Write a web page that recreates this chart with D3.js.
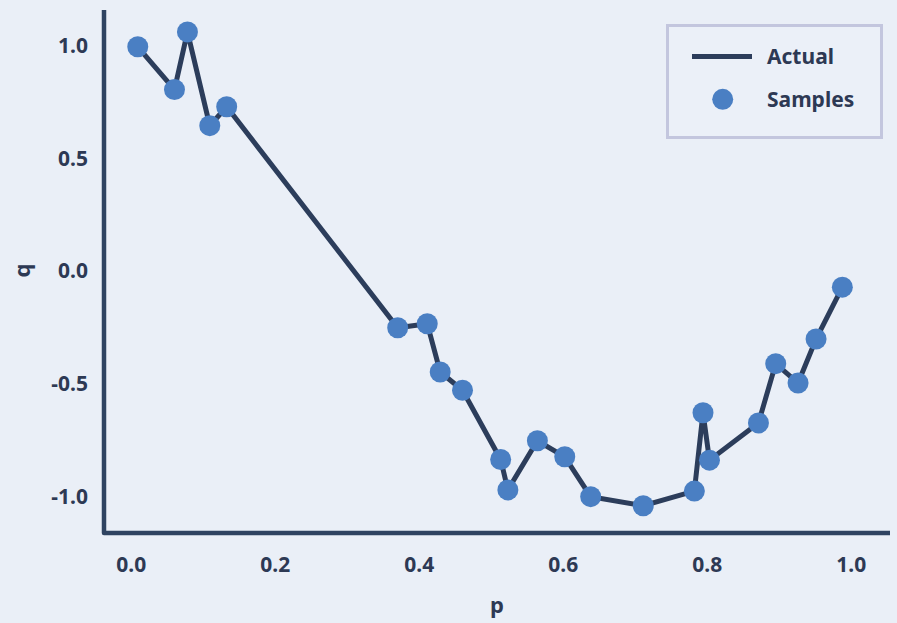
<!DOCTYPE html>
<html>
<head>
<meta charset="utf-8">
<script src="https://cdn.jsdelivr.net/npm/d3@7"></script>
<style>
  html, body { margin: 0; padding: 0; background: #eaeff7; }
  svg { display: block; }
  text { font-family: "Noto Sans", "Open Sans", sans-serif; font-weight: 700; fill: #2d3954; }
</style>
</head>
<body>
<svg id="chart" width="897" height="623"></svg>
<script>
const pValues = [0.009, 0.060, 0.078, 0.109, 0.1325, 0.370, 0.411, 0.429, 0.460, 0.513, 0.523, 0.564, 0.602, 0.638, 0.711, 0.782, 0.794, 0.803, 0.871, 0.895, 0.926, 0.951, 0.9875];
const qValues = [0.992, 0.802, 1.058, 0.642, 0.726, -0.254, -0.236, -0.450, -0.531, -0.838, -0.973, -0.755, -0.826, -1.003, -1.043, -0.978, -0.631, -0.841, -0.676, -0.413, -0.499, -0.304, -0.074];
const xTicks = [0.0, 0.2, 0.4, 0.6, 0.8, 1.0];
const yTicks = [-1.0, -0.5, 0.0, 0.5, 1.0];
const legendLabels = ["Actual", "Samples"];
const axisLabels = { x: "p", y: "q" };

(function () {
const data = pValues.map((p, i) => ({ p, q: qValues[i] }));

const svg = d3.select("#chart");
const mLeft = 104, mRight = 890, mTop = 10, mBottom = 533;

const x = d3.scaleLinear().domain([-0.0379, 1.0537]).range([mLeft, mRight]);
const y = d3.scaleLinear().domain([-1.164, 1.155]).range([mBottom, mTop]);

const lineColor = "#2c3d5b";
const dotColor = "#4a7fc3";

// tick labels
svg.append("g").selectAll("text").data(xTicks).join("text")
  .attr("x", d => x(d)).attr("y", 564)
  .attr("text-anchor", "middle").attr("dominant-baseline", "central")
  .attr("font-size", 21)
  .text(d => d3.format(".1f")(d));

svg.append("g").selectAll("text").data(yTicks).join("text")
  .attr("x", 88).attr("y", d => y(d))
  .attr("text-anchor", "end").attr("dominant-baseline", "central")
  .attr("font-size", 21)
  .text(d => d3.format(".1f")(d).replace("\u2212", "-"));

// axis titles
svg.append("text").attr("x", 497).attr("y", 604)
  .attr("text-anchor", "middle").attr("dominant-baseline", "central")
  .attr("font-size", 22).text(axisLabels.x);
svg.append("text")
  .attr("transform", `translate(21,${y(0)}) rotate(-90)`)
  .attr("text-anchor", "middle").attr("dominant-baseline", "central")
  .attr("font-size", 22).text(axisLabels.y);

// spines
svg.append("path")
  .attr("d", `M${mLeft},${mTop} L${mLeft},${mBottom} L${mRight},${mBottom}`)
  .attr("fill", "none").attr("stroke", "#2f4361").attr("stroke-width", 4.5)
  .attr("stroke-linejoin", "round").attr("stroke-linecap", "butt");

// line
const line = d3.line().x(d => x(d.p)).y(d => y(d.q));
svg.append("path").datum(data)
  .attr("d", line).attr("fill", "none")
  .attr("stroke", lineColor).attr("stroke-width", 5)
  .attr("stroke-linejoin", "miter").attr("stroke-miterlimit", 4);

// points
svg.append("g").selectAll("circle").data(data).join("circle")
  .attr("cx", d => x(d.p)).attr("cy", d => y(d.q))
  .attr("r", 10.5).attr("fill", dotColor);

// legend
const lg = svg.append("g");
lg.append("rect").attr("x", 667.5).attr("y", 25.5).attr("width", 214).attr("height", 112)
  .attr("fill", "#ebf0f8").attr("stroke", "#c3c6de").attr("stroke-width", 3);
lg.append("line").attr("x1", 692).attr("x2", 752).attr("y1", 56.5).attr("y2", 56.5)
  .attr("stroke", lineColor).attr("stroke-width", 5);
lg.append("circle").attr("cx", 722.7).attr("cy", 99.3).attr("r", 10.5).attr("fill", dotColor);
lg.selectAll("text.lab").data(legendLabels).join("text")
  .attr("class", "lab")
  .attr("x", 767).attr("y", (d, i) => i === 0 ? 56 : 99)
  .attr("dominant-baseline", "central")
  .attr("font-size", 21).text(d => d);
})();
</script>
</body>
</html>
